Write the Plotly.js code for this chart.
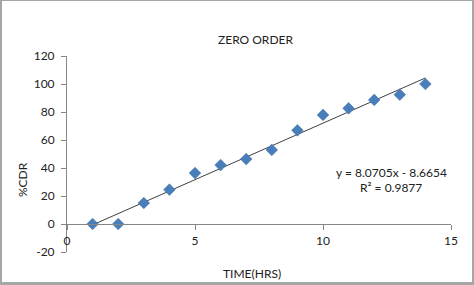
<!DOCTYPE html>
<html>
<head>
<meta charset="utf-8">
<script src="https://cdn.plot.ly/plotly-3.0.1.min.js"></script>
<style>
html,body{margin:0;padding:0;background:#fff;}
#wrap{position:relative;width:474px;height:285px;overflow:hidden;}
#chart{position:absolute;left:0;top:0;width:474px;height:285px;}
#frame{position:absolute;left:0;top:0;width:474px;height:285px;box-sizing:border-box;
  border-style:solid;border-color:#a6a6a6;border-width:1px 2px 3px 2px;pointer-events:none;}
</style>
</head>
<body>
<div id="wrap"><div id="chart"></div><div id="frame"></div></div>
<script>
const timeHrs = [1,2,3,4,5,6,7,8,9,10,11,12,13,14];
const cdr = [0,0,15,24.5,36.4,42.1,46.4,52.9,66.9,77.9,82.6,88.6,92.4,100];
const xTicks = [0,5,10,15];
const yTicks = [-20,0,20,40,60,80,100,120];
const equationText = "y = 8.0705x - 8.6654";
const r2Text = "R\u00b2 = 0.9877";

// least-squares trendline from the data
const n = timeHrs.length;
const mx = timeHrs.reduce((a,b)=>a+b,0)/n;
const my = cdr.reduce((a,b)=>a+b,0)/n;
let sxy=0,sxx=0;
for(let i=0;i<n;i++){sxy+=(timeHrs[i]-mx)*(cdr[i]-my);sxx+=(timeHrs[i]-mx)**2;}
const slope = sxy/sxx, intercept = my - slope*mx;
const xMin = Math.min(...timeHrs), xMax = Math.max(...timeHrs);
const trendX = [xMin, xMax];
const trendY = trendX.map(x=>slope*x+intercept);

const font = {family:"Lato, Liberation Sans, sans-serif", size:12, color:"#222"};
const yRange = [-20,120];

Plotly.newPlot("chart", [
  {x:trendX, y:trendY, type:"scatter", mode:"lines", line:{color:"#404040", width:1}, hoverinfo:"skip"},
  {x:timeHrs, y:cdr, type:"scatter", mode:"markers",
   marker:{symbol:"diamond", size:9, color:"#4a7ebb", line:{width:0.5, color:"#3c6ea8"}}}
], {
  width:474, height:285,
  margin:{l:67, r:23, t:56, b:33, pad:0},
  paper_bgcolor:"#fff", plot_bgcolor:"#fff",
  showlegend:false,
  font:font,
  xaxis:{range:[0,15], tickvals:xTicks, ticktext:xTicks.map(String),
    showgrid:false, zeroline:false, showline:true, linecolor:"#868686", linewidth:1,
    ticks:"outside", ticklen:5, tickcolor:"#868686", ticklabelstandoff:1,
    anchor:"free", position:(0-yRange[0])/(yRange[1]-yRange[0]), tickfont:font},
  yaxis:{range:yRange, tickvals:yTicks, ticktext:yTicks.map(String),
    showgrid:false, zeroline:false, showline:true, linecolor:"#868686", linewidth:1,
    ticks:"outside", ticklen:5, tickcolor:"#868686", ticklabelstandoff:4, tickfont:font},
  annotations:[
    {text:"ZERO ORDER", xref:"paper", yref:"paper", x:0.49, y:1+16/196, xanchor:"center", yanchor:"middle", showarrow:false, font:font},
    {text:"TIME(HRS)", xref:"paper", yref:"paper", x:0.482, y:-21/196, xanchor:"center", yanchor:"middle", showarrow:false, font:font},
    {text:"%CDR", xref:"paper", yref:"paper", x:-45/384, y:0.367, xanchor:"center", yanchor:"middle", textangle:-90, showarrow:false, font:font},
    {text:equationText, xref:"paper", yref:"paper", x:(391-67)/384, y:(252-172)/196, xanchor:"center", yanchor:"middle", showarrow:false, font:font},
    {text:r2Text, xref:"paper", yref:"paper", x:(391-67)/384, y:(252-187)/196, xanchor:"center", yanchor:"middle", showarrow:false, font:font}
  ]
}, {staticPlot:true, displayModeBar:false});
</script>
</body>
</html>
